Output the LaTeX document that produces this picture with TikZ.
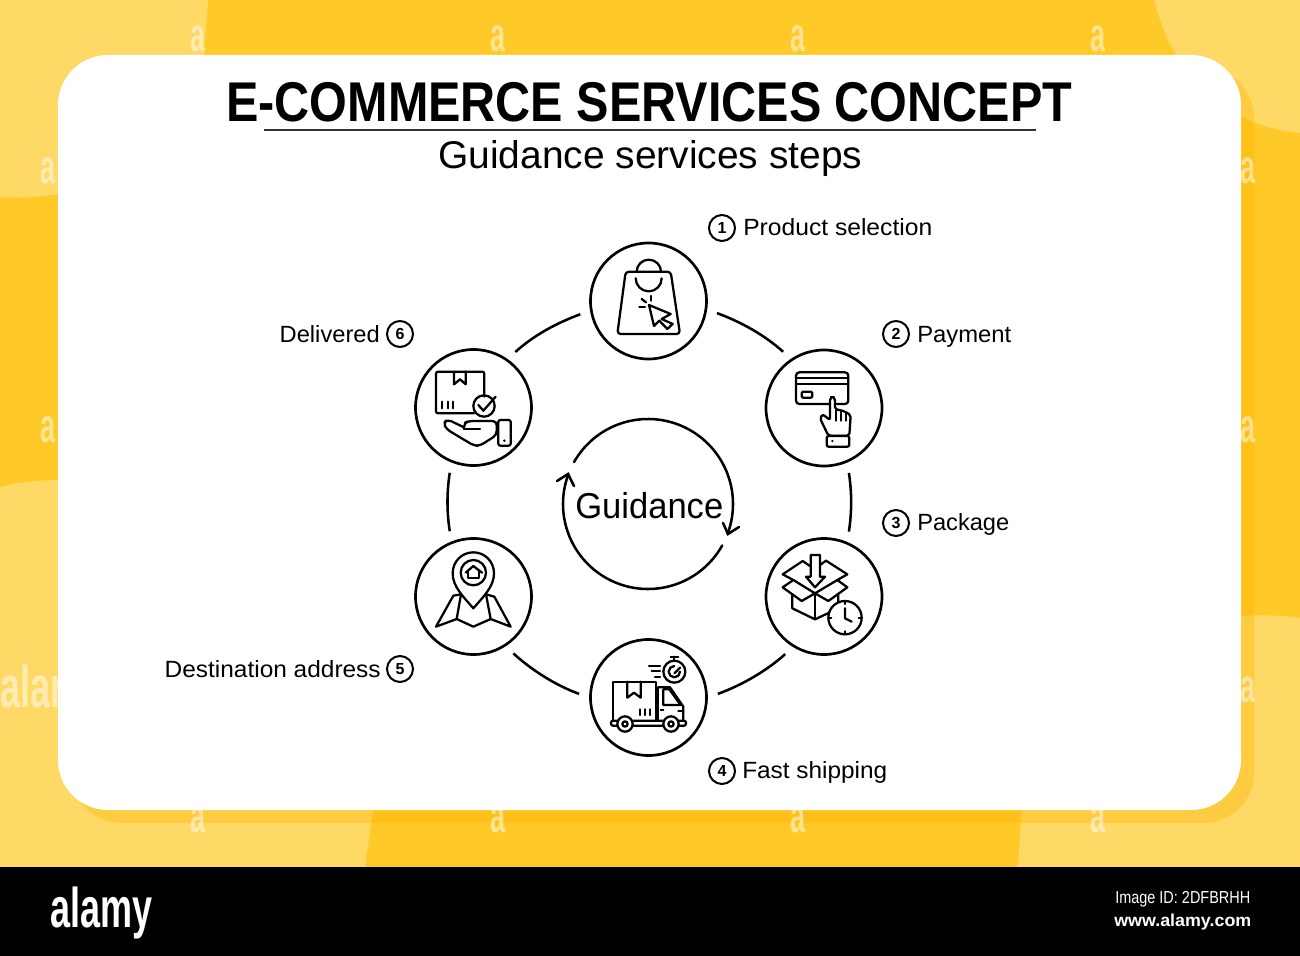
\documentclass[tikz,border=0pt]{standalone}
\usepackage{fontspec}
\usepackage{graphicx}
\setmainfont{Liberation Sans}
\newdimen\pxu \pxu=.75pt
\newcommand{\fitw}[2]{\resizebox{#1\pxu}{\height}{#2}}
\newcommand{\fs}[1]{\fontsize{#1}{#1}\selectfont}
\definecolor{basey}{HTML}{FFC928}
\definecolor{lighty}{HTML}{FFD966}
\definecolor{shady}{HTML}{FFB400}
\tikzset{
  stepnode/.style={circle,draw=black,line width=2pt,fill=white,minimum size=87pt,outer sep=8.625pt,inner sep=0pt},
  ringarc/.style={line width=1.9pt,draw=black},
  centerarc/.style={line width=1.9pt,draw=black,line cap=round,line join=miter},
  badge/.style={circle,draw=black,line width=1.5pt,minimum size=19.5pt,inner sep=0pt,font=\bfseries\fs{12}},
  steplabel/.style={inner sep=0pt,anchor=base west,font=\fs{17.6}},
  steplabelr/.style={inner sep=0pt,anchor=base east,font=\fs{17.6}},
  wmark/.style={inner sep=0pt,anchor=base,text=white,text opacity=.5,font=\bfseries\fs{36}},
  iconline/.style={line width=1.7pt,line join=round,line cap=round,draw=black},
  iconzone/.style={x=.25pt,y=-.25pt,iconline},
}
\begin{document}
\begin{tikzpicture}[x=.75pt,y=-.75pt]
\useasboundingbox (0,0) rectangle (1300,956);
% background
\fill[basey] (0,0) rectangle (1300,867);
\fill[lighty] (0,0) -- (208,0) .. controls (207,20) and (205,40) .. (203,60) -- (60,194) .. controls (40,197) and (20,198.5) .. (0,197) -- cycle;
\fill[lighty] (1154,0) .. controls (1170,60) and (1205,122) .. (1300,133) -- (1300,0) -- cycle;
\fill[lighty] (0,487) .. controls (20,482) and (40,480) .. (62,480) -- (380,700) -- (373,810) -- (365,867) -- (0,867) -- cycle;
\fill[lighty] (1300,618) .. controls (1280,615) and (1260,615) .. (1238,616) -- (1030,700) -- (1021.5,810) -- (1018,867) -- (1300,867) -- cycle;
\fill[shady,fill opacity=.36,rounded corners=37.5pt] (71,68) rectangle (1254,823);
% watermark
\foreach \wx/\wy in {198/52,498/52,798/52,1098/52,48/183,1248/183,48/442,1248/442,1248/702,198/832,498/832,798/832,1098/832}
  \node[wmark] at (\wx,\wy) {\fitw{15}{a}};
\node[wmark,anchor=base west,font=\bfseries\fs{44}] (wmtext) at (0,707) {\fitw{102}{alamy}};
% panel
\fill[white,rounded corners=37.5pt] (58,55) rectangle (1241,810);
% title
\node[inner sep=0pt,anchor=base west,font=\bfseries\fs{42}] (title) at (226,122) {\fitw{846}{E-COMMERCE SERVICES CONCEPT}};
\coordinate (ruleL) at (264,130);
\coordinate (ruleR) at (1036,130);
\draw[line width=1.1pt,black!80] (ruleL) -- (ruleR);
\node[inner sep=0pt,anchor=base west,font=\fs{29}] (subtitle) at (438,168) {\fitw{424}{Guidance services steps}};
% step circles
\node[stepnode] (n1) at (648.5,301) {};
\node[stepnode] (n2) at (824,408) {};
\node[stepnode] (n3) at (824,596.5) {};
\node[stepnode] (n4) at (648.5,697.5) {};
\node[stepnode] (n5) at (473.5,596.5) {};
\node[stepnode] (n6) at (473.5,407.5) {};
% ring
\draw[ringarc] (n1.-10.7) .. controls +(23.8,8.8) and +(-18.9,-17) .. (n2.126.9);
\draw[ringarc] (n2.-69) .. controls +(3,20) and +(3,-20) .. (n3.69);
\draw[ringarc] (n3.-124.6) .. controls +(-18.5,16.8) and +(23.5,-8.5) .. (n4.3.5);
\draw[ringarc] (n4.177) .. controls +(-23.5,-8.5) and +(18.5,16.8) .. (n5.-55.5);
\draw[ringarc] (n5.110.5) .. controls +(-3,-20) and +(-3,20) .. (n6.-110.5);
\draw[ringarc] (n6.53.2) .. controls +(18.9,-17) and +(-23.8,8.8) .. (n1.-169.3);
% centre
\node[inner sep=0pt,anchor=base west,font=\fs{27}] (guid) at (575,518) {\fitw{148}{Guidance}};
\draw[centerarc] (648,504) ++(-150.4:85) arc[start angle=-150.4,end angle=20.6,radius=85];
\draw[centerarc] (723,523) -- (728,534) -- (739,527);
\draw[centerarc] (648,504) ++(29.2:85) arc[start angle=29.2,end angle=200.6,radius=85];
\draw[centerarc] (557,481) -- (568,474) -- (574,486);
% badges and labels
\node[badge] (b1) at (722,228) {1};
\node[badge] (b2) at (896,334) {2};
\node[badge] (b3) at (896,523) {3};
\node[badge] (b4) at (722,771) {4};
\node[badge] (b5) at (400,669) {5};
\node[badge] (b6) at (400,334) {6};
\node[steplabel] (l1) at (743,235) {\fitw{189}{Product selection}};
\node[steplabel] (l2) at (917,342) {\fitw{94}{Payment}};
\node[steplabel] (l3) at (917,530) {\fitw{92}{Package}};
\node[steplabel] (l4) at (742,778) {\fitw{145}{Fast shipping}};
\node[steplabelr] (l5) at (381,677) {\fitw{216}{Destination address}};
\node[steplabelr] (l6) at (380,342) {\fitw{100}{Delivered}};
% icon 1: bag
\begin{scope}[shift={(580,230)},iconzone]
\draw[rounded corners=2.5pt] (137,125) -- (272,125) -- (300,312) -- (112,312) -- cycle;
\draw (170,125) arc[start angle=180,end angle=360,x radius=36.5,y radius=36];
\draw (167,145) arc[start angle=180,end angle=0,radius=39];
\draw[fill=white,miter limit=4] (207,225) -- (272,252) -- (245,267) -- (278,282) -- (262,297) -- (238,272) -- (222,288) -- cycle;
\draw (212,198) -- (212,212);
\draw (185,207) -- (198,217);
\draw (178,232) -- (195,232);
\end{scope}
% icon 2: card and hand
\begin{scope}[shift={(580,230)},iconzone]
\draw[rounded corners=2.5pt] (648,427) rectangle (805,522);
\draw (648,443) -- (805,443);
\draw (648,462) -- (805,462);
\draw[rounded corners=1pt] (665,485) rectangle (697,503);
\draw[fill=white,rounded corners=1.5pt] (745,617) -- (720,565) -- (728,553) -- (750,570) -- (750,505) -- (757,498) -- (765,505) -- (765,538) -- (780,540) -- (795,545) -- (812,555) -- (808,617) -- cycle;
\draw (768,540) -- (768,572);
\draw (783,542) -- (783,572);
\draw (798,548) -- (798,572);
\draw[rounded corners=1.5pt] (740,618) rectangle (808,650);
\fill (757,633) circle[radius=4];
\end{scope}
% icon 3: parcel and clock
\begin{scope}[shift={(580,530)},iconzone]
\draw (637,195) -- (637,235) -- (705,268) -- (775,235) -- (775,195);
\draw (705,190) -- (705,268);
\draw (608,172) -- (665,213) -- (705,190) -- (745,213) -- (802,172) -- (772,150);
\draw (608,172) -- (640,150) -- (705,190) -- (772,150);
\draw (640,150) -- (608,133) -- (668,93) -- (690,108);
\draw (720,105) -- (738,92) -- (802,133) -- (772,150);
\draw[fill=white] (692,75) -- (720,75) -- (720,140) -- (735,140) -- (705,172) -- (678,140) -- (692,140) -- cycle;
\draw[fill=white] (795,263) circle[radius=50];
\draw (795,235) -- (795,265) -- (815,275);
\draw (795,213) -- (795,222);
\draw (795,304) -- (795,313);
\draw (745,263) -- (754,263);
\draw (836,263) -- (845,263);
\end{scope}
% icon 4: truck
\begin{scope}[shift={(580,530)},iconzone]
\draw (98,570) -- (98,455) -- (228,455) -- (228,570);
\draw (142,455) -- (142,503) -- (162,488) -- (182,503) -- (182,455);
\draw (180,538) -- (180,555);
\draw (195,538) -- (195,555);
\draw (210,538) -- (210,555);
\draw (235,472) -- (270,472) -- (310,530) -- (310,572);
\draw (235,472) -- (235,572);
\draw (250,478) -- (250,525) -- (302,525) -- (268,478) -- cycle;
\draw (242,540) -- (250,540);
\draw (295,543) -- (310,543);
\draw[rounded corners=1.5pt] (93,572) rectangle (318,587);
\draw[fill=white] (135,582) circle[radius=23];
\draw (135,582) circle[radius=8];
\draw[fill=white] (273,582) circle[radius=23];
\draw (273,582) circle[radius=8];
\draw (283,425) circle[radius=33];
\draw (283,408) arc[start angle=-90,end angle=-360,radius=17];
\draw (283,430) -- (300,413);
\draw (283,392) -- (283,380);
\draw (272,380) -- (295,380);
\draw (207,408) -- (240,408);
\draw (215,424) -- (240,424);
\draw (225,440) -- (240,440);
\end{scope}
% icon 5: map pin
\begin{scope}[shift={(400,530)},iconzone]
\draw (183,193) -- (160,197) -- (108,290) -- (170,267) -- (220,290) -- (272,267) -- (332,290) -- (283,200) -- (258,193);
\draw (183,193) -- (170,267);
\draw (258,193) -- (272,267);
\draw[fill=white] (220,235) .. controls (190,200) and (158,170) .. (158,130) .. controls (158,95) and (185,67) .. (220,67) .. controls (255,67) and (282,95) .. (282,130) .. controls (282,170) and (250,200) .. (220,235) -- cycle;
\draw (220,128) circle[radius=38];
\draw (197,128) -- (220,108) -- (246,128);
\draw (205,122) -- (205,145) -- (237,145) -- (237,122);
\end{scope}
% icon 6: delivered
\begin{scope}[shift={(400,340)},iconzone]
\draw[rounded corners=1.5pt] (253,170) -- (253,95) -- (108,95) -- (108,220) -- (222,220);
\draw (162,95) -- (162,133) -- (180,118) -- (197,133) -- (197,95);
\draw (127,185) -- (127,205);
\draw (143,185) -- (143,205);
\draw (158,185) -- (158,205);
\draw (252,198) circle[radius=32];
\draw (235,195) -- (250,212) -- (287,170);
\draw[rounded corners=3pt] (192,267) -- (192,250) -- (205,243) -- (290,243) -- (290,285) -- (240,317) -- (222,317) -- (140,268) -- (130,250) -- (142,238) -- (192,262);
\draw (192,267) -- (240,267);
\draw[rounded corners=1.5pt] (295,240) rectangle (332,317);
\fill (313,302) circle[radius=4];
\end{scope}
% footer band
\fill[black] (0,867) rectangle (1300,956);
\node[inner sep=0pt,anchor=base west,text=white,font=\bfseries\fs{42}] (logo) at (50,927) {\fitw{102}{alamy}};
\node[inner sep=0pt,anchor=base west,text=white,font=\fs{13}] (imgid) at (1115,903) {\fitw{135}{Image ID: 2DFBRHH}};
\node[inner sep=0pt,anchor=base west,text=white,font=\bfseries\fs{13}] (www) at (1114,926) {\fitw{137}{www.alamy.com}};
\end{tikzpicture}
\end{document}
